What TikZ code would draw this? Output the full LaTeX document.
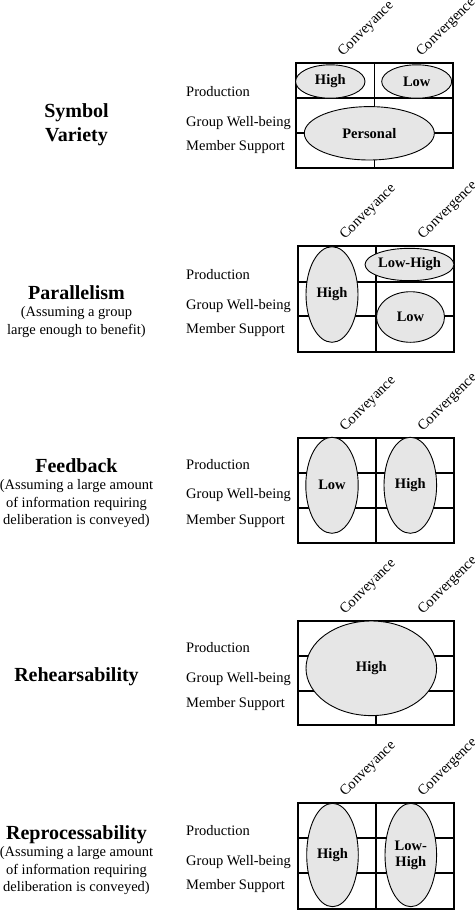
\documentclass[tikz,border=0pt]{standalone}
\usepackage{fontspec}
\setmainfont{Liberation Serif}
\usetikzlibrary{shapes.geometric}
\definecolor{cellgray}{HTML}{E6E6E6}
\begin{document}
\begin{tikzpicture}[x=1pt,y=-1pt,
  gridline/.style={line width=1.1pt, draw=black},
  ell/.style={ellipse, draw=black, line width=0.9pt, fill=cellgray, inner sep=0pt,
    font=\fontsize{14.5}{16}\selectfont\bfseries, align=center},
  rowlab/.style={anchor=base west, inner sep=0pt, font=\fontsize{14.5}{17}\selectfont},
  colhead/.style={anchor=base west, rotate=45, inner sep=0pt, font=\fontsize{14.5}{17}\selectfont},
  bigtitle/.style={anchor=north, inner sep=0pt, align=center, font=\fontsize{20}{24}\selectfont\bfseries},
  subtitle/.style={anchor=north, inner sep=0pt, align=center, font=\fontsize{14.5}{17.5}\selectfont},
]
\useasboundingbox (0,0) rectangle (474,910);

% ---------- Panel 1: Symbol Variety ----------
\draw[gridline] (296,63) rectangle (453,168);
\draw[gridline] (296,98) -- (453,98);
\draw[gridline] (296,133) -- (453,133);
\draw[gridline] (374.5,63) -- (374.5,168);
\node[ell, minimum width=69.4pt, minimum height=33.4pt] (p1a) at (330.3,81.5) {High};
\node[ell, minimum width=70pt, minimum height=33.4pt] (p1b) at (416.7,81.5) {Low};
\node[ell, minimum width=130pt, minimum height=53.4pt] (p1c) at (369.3,133.3) {Personal};
\node[colhead] (p1h1) at (343,57) {Conveyance};
\node[colhead] (p1h2) at (421.5,57) {Convergence};
\node[rowlab] (p1r1) at (186,96) {Production};
\node[rowlab] (p1r2) at (186,126) {Group Well-being};
\node[rowlab] (p1r3) at (186,150) {Member Support};
\node[bigtitle] (p1t) at (76.5,103) {Symbol\\Variety};

% ---------- Panel 2: Parallelism ----------
\draw[gridline] (298,246) rectangle (454,352);
\draw[gridline] (298,282) -- (454,282);
\draw[gridline] (298,316) -- (454,316);
\draw[gridline] (376,246) -- (376,352);
\node[ell, minimum width=52pt, minimum height=95.6pt] (p2a) at (332,294.5) {High};
\node[ell, minimum width=67.6pt, minimum height=32.4pt] (p2b) at (409.5,264.5) {Low-High};
\node[ell, minimum width=68pt, minimum height=50.6pt] (p2c) at (410.5,317) {Low};
\node[colhead] (p2h1) at (345,240) {Conveyance};
\node[colhead] (p2h2) at (423,240) {Convergence};
\node[rowlab] (p2r1) at (186,279) {Production};
\node[rowlab] (p2r2) at (186,309) {Group Well-being};
\node[rowlab] (p2r3) at (186,333) {Member Support};
\node[subtitle] (p2t) at (76.5,285) {{\fontsize{20}{17.5}\selectfont\bfseries Parallelism}\\(Assuming a group\\large enough to benefit)};

% ---------- Panel 3: Feedback ----------
\draw[gridline] (298,438) rectangle (454,543);
\draw[gridline] (298,473) -- (454,473);
\draw[gridline] (298,508) -- (454,508);
\draw[gridline] (376,438) -- (376,543);
\node[ell, minimum width=52.4pt, minimum height=96pt] (p3a) at (332,485.3) {Low};
\node[ell, minimum width=52.6pt, minimum height=96pt] (p3b) at (410.3,485.3) {High};
\node[colhead] (p3h1) at (345,432) {Conveyance};
\node[colhead] (p3h2) at (423,432) {Convergence};
\node[rowlab] (p3r1) at (186,469) {Production};
\node[rowlab] (p3r2) at (186,498) {Group Well-being};
\node[rowlab] (p3r3) at (186,524) {Member Support};
\node[subtitle] (p3t) at (76.5,458) {{\fontsize{20}{17.5}\selectfont\bfseries Feedback}\\(Assuming a large amount\\of information requiring\\deliberation is conveyed)};

% ---------- Panel 4: Rehearsability ----------
\draw[gridline] (298,621) rectangle (454,725);
\draw[gridline] (298,656) -- (454,656);
\draw[gridline] (298,691) -- (454,691);
\draw[gridline] (376,621) -- (376,725);
\node[ell, minimum width=130.6pt, minimum height=94.6pt] (p4a) at (371.3,668.3) {High};
\node[colhead] (p4h1) at (345,615) {Conveyance};
\node[colhead] (p4h2) at (423,615) {Convergence};
\node[rowlab] (p4r1) at (186,652) {Production};
\node[rowlab] (p4r2) at (186,682) {Group Well-being};
\node[rowlab] (p4r3) at (186,707) {Member Support};
\node[bigtitle] (p4t) at (76.5,667) {Rehearsability};

% ---------- Panel 5: Reprocessability ----------
\draw[gridline] (298,803) rectangle (454,909);
\draw[gridline] (298,838) -- (454,838);
\draw[gridline] (298,873) -- (454,873);
\draw[gridline] (376,803) -- (376,909);
\node[ell, minimum width=51.6pt, minimum height=103.4pt] (p5a) at (332.5,855) {High};
\node[ell, minimum width=51.6pt, minimum height=103.4pt] (p5b) at (410.8,855) {Low-\\High};
\node[colhead] (p5h1) at (345,797) {Conveyance};
\node[colhead] (p5h2) at (423,797) {Convergence};
\node[rowlab] (p5r1) at (186,835) {Production};
\node[rowlab] (p5r2) at (186,865) {Group Well-being};
\node[rowlab] (p5r3) at (186,889) {Member Support};
\node[subtitle] (p5t) at (76.5,825) {{\fontsize{20}{17.5}\selectfont\bfseries Reprocessability}\\(Assuming a large amount\\of information requiring\\deliberation is conveyed)};
\end{tikzpicture}
\end{document}
